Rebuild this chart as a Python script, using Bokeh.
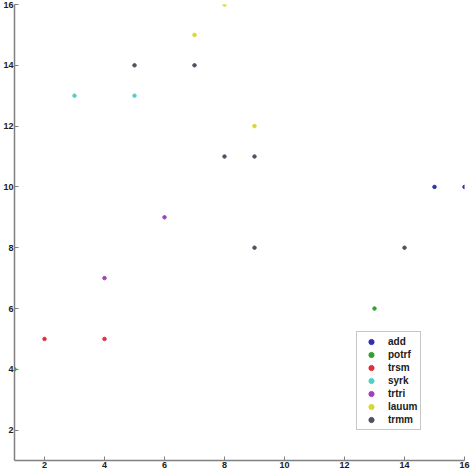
from bokeh.plotting import figure
from bokeh.models import Range1d, Legend, LegendItem, FixedTicker
from bokeh.embed import file_html
from bokeh.resources import INLINE

series = ["add", "potrf", "trsm", "syrk", "trtri", "lauum", "trmm"]
xs = {
    "add": [15, 16],
    "potrf": [1, 13],
    "trsm": [2, 4],
    "syrk": [3, 5],
    "trtri": [4, 6],
    "lauum": [7, 8, 9],
    "trmm": [5, 7, 8, 9, 9, 14],
}
ys = {
    "add": [10, 10],
    "potrf": [4, 6],
    "trsm": [5, 5],
    "syrk": [13, 13],
    "trtri": [7, 9],
    "lauum": [15, 16, 12],
    "trmm": [14, 14, 11, 11, 8, 8],
}
colors = {
    "add": "#3030b0",
    "potrf": "#30a030",
    "trsm": "#e03040",
    "syrk": "#50d0c8",
    "trtri": "#a040c0",
    "lauum": "#d8d830",
    "trmm": "#505060",
}
ticks = [2, 4, 6, 8, 10, 12, 14, 16]

p = figure(width=470, height=470, output_backend="svg", toolbar_location=None,
           x_range=Range1d(1, 16), y_range=Range1d(1, 16),
           min_border_left=0, min_border_right=6, min_border_top=4, min_border_bottom=0)
p.grid.visible = False
p.outline_line_color = None
p.background_fill_color = "white"

items = []
for s in series:
    r = p.scatter(xs[s], ys[s], size=3.5, color=colors[s], line_color=colors[s])
    items.append(LegendItem(label=s, renderers=[r]))

for ax in (p.xaxis[0], p.yaxis[0]):
    ax.ticker = FixedTicker(ticks=ticks)
    ax.axis_line_color = "#808080"
    ax.axis_line_width = 1.5
    ax.major_tick_in = 4
    ax.major_tick_out = 0
    ax.minor_tick_line_color = None
    ax.major_tick_line_color = "#808080"
    ax.major_label_text_font = "Liberation Sans"
    ax.major_label_text_font_style = "bold"
    ax.major_label_text_font_size = "9px"
    ax.major_label_text_color = "#202020"
    ax.major_label_standoff = 1

legend = Legend(items=items, location=(342, 30))
legend.label_text_font = "Liberation Sans"
legend.label_text_font_style = "bold"
legend.label_text_font_size = "10px"
legend.label_text_color = "#202020"
legend.label_height = 13
legend.glyph_height = 13
legend.glyph_width = 22
legend.spacing = 0
legend.padding = 3
legend.margin = 0
legend.label_standoff = 6
legend.border_line_color = "#909090"
legend.border_line_width = 1.5
legend.background_fill_alpha = 1
p.add_layout(legend, "center")

open("out.html", "w").write(file_html(p, INLINE))
